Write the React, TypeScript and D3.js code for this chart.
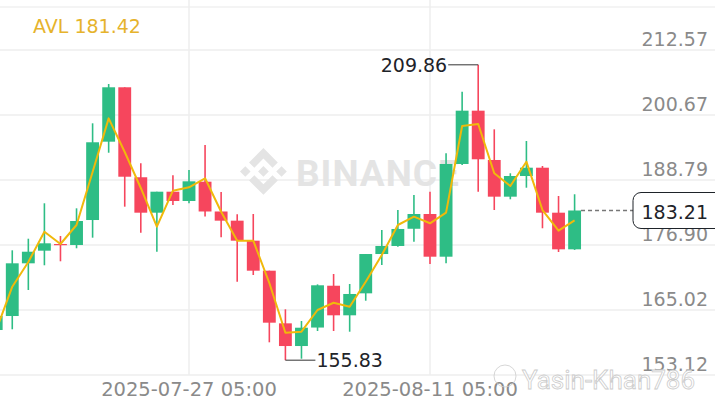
import { useEffect, useRef } from "react";
import * as d3 from "d3";

// daily candles, 05:00
const dates = [
  "2025-07-15", "2025-07-16", "2025-07-17", "2025-07-18", "2025-07-19", "2025-07-20",
  "2025-07-21", "2025-07-22", "2025-07-23", "2025-07-24", "2025-07-25", "2025-07-26",
  "2025-07-27", "2025-07-28", "2025-07-29", "2025-07-30", "2025-07-31", "2025-08-01",
  "2025-08-02", "2025-08-03", "2025-08-04", "2025-08-05", "2025-08-06", "2025-08-07",
  "2025-08-08", "2025-08-09", "2025-08-10", "2025-08-11", "2025-08-12", "2025-08-13",
  "2025-08-14", "2025-08-15", "2025-08-16", "2025-08-17", "2025-08-18", "2025-08-19",
  "2025-08-20",
];
const open = [
  161.35, 163.91, 173.55, 175.86, 177.08, 176.9, 181.47, 195.8, 205.75, 189.29, 182.81, 186.65,
  184.95, 188.48, 183.03, 181.35, 177.69, 172.2, 162.57, 158.42, 161.8, 169.45, 164.04, 168.06,
  175.25, 176.72, 179.87, 182.57, 174.76, 191.72, 201.47, 192.45, 185.74, 189.52, 191.04, 182.81,
  176.11,
];
const high = [
  164.6, 175.93, 178.05, 184.53, 178.55, 183.61, 199.16, 206.35, 205.75, 191.85, 186.65, 189.65,
  190.62, 195.19, 186.6, 182.52, 182.57, 172.2, 165.14, 163.0, 169.7, 171.6, 169.77, 175.25,
  179.64, 183.3, 186.05, 186.65, 193.67, 204.94, 209.86, 198.06, 190.02, 195.92, 191.35, 185.86,
  186.18,
];
const low = [
  160.3, 161.48, 168.67, 173.19, 173.92, 176.3, 178.24, 193.78, 183.91, 179.15, 175.67, 184.22,
  184.53, 182.11, 178.31, 170.19, 171.41, 159.1, 155.83, 156.1, 161.17, 161.17, 161.04, 166.71,
  173.24, 176.6, 177.5, 173.42, 173.55, 191.53, 186.65, 183.3, 185.26, 187.38, 179.96, 175.62,
  176.0,
];
const close = [
  163.91, 173.55, 175.67, 177.21, 176.9, 181.29, 195.69, 205.75, 189.39, 182.81, 186.65, 184.95,
  188.55, 183.03, 181.35, 177.69, 172.2, 162.69, 158.42, 161.77, 169.53, 164.04, 167.94, 175.25,
  176.72, 179.83, 182.57, 174.76, 191.72, 201.47, 192.58, 185.74, 189.52, 191.04, 182.81, 176.11,
  183.21,
];
// AVL line
const avl = [
  161.35, 169.27, 173.79, 179.33, 177.08, 180.56, 190.25, 200.06, 193.91, 187.33, 180.25, 186.83,
  187.45, 189.1, 182.99, 177.69, 177.69, 169.95, 160.86, 161.04, 165.01, 166.34, 165.61, 170.19,
  175.07, 180.56, 182.08, 180.87, 182.81, 198.67, 199.03, 190.02, 187.69, 192.14, 183.3, 179.52,
  181.42,
];

const yTicks = [153.12, 165.02, 176.9, 188.79, 200.67, 212.57];
const xTicks = ["2025-07-27", "2025-08-11"];
const lastPrice = 183.21;

const W = 715;
const H = 401;
const up = "#2ebd85";
const down = "#f6465d";
const font = "DejaVu Sans";

const parse = (s) => {
  const [yy, mm, dd] = s.split("-").map(Number);
  return new Date(yy, mm - 1, dd, 5, 0);
};

function drawChart(el) {
  const svg = d3.select(el);
  svg.selectAll("*").remove();

  const T = dates.map(parse);
  const x = d3.scaleTime().domain([parse(xTicks[0]), parse(xTicks[1])]).range([189, 430]);
  const y = d3.scaleLinear().domain([153.12, 212.57]).range([375, 50]);
  const step = x(T[1]) - x(T[0]);
  const bw = step * 0.8;
  const fmt = d3.timeFormat("%Y-%m-%d %H:%M");

  svg.append("rect").attr("width", W).attr("height", H).attr("fill", "#fff");

  // grid
  svg.append("line").attr("x1", 0).attr("x2", W).attr("y1", 7).attr("y2", 7)
    .attr("stroke", "#f0f0f0").attr("stroke-width", 1.5);
  svg.append("g").selectAll("line").data(yTicks).join("line")
    .attr("x1", 0).attr("x2", W)
    .attr("y1", (d) => y(d)).attr("y2", (d) => y(d))
    .attr("stroke", "#eeeeee").attr("stroke-width", 1.5);
  svg.append("g").selectAll("line").data(xTicks).join("line")
    .attr("x1", (d) => x(parse(d))).attr("x2", (d) => x(parse(d)))
    .attr("y1", 0).attr("y2", y(153.12))
    .attr("stroke", "#eeeeee").attr("stroke-width", 1.5);

  // watermark
  const logo = svg.append("g")
    .attr("transform", "translate(240,148) scale(0.37)")
    .attr("fill", "#e4e4e4");
  [
    "M38.73 53.2 L63.3 28.63 L87.9 53.22 L102.2 38.92 L63.3 0 L24.43 38.9 Z",
    "M0 63.31 L14.3 49.01 L28.6 63.31 L14.3 77.61 Z",
    "M38.73 73.41 L63.3 97.99 L87.9 73.4 L102.2 87.69 L63.3 126.61 L24.43 87.72 Z",
    "M98 63.31 L112.3 49.01 L126.6 63.31 L112.3 77.61 Z",
    "M63.3 48.78 L77.83 63.3 L63.3 77.82 L48.79 63.28 Z",
  ].forEach((p) => logo.append("path").attr("d", p));
  svg.append("text").attr("x", 296).attr("y", 186)
    .attr("font-family", "Roboto").attr("font-weight", 700).attr("font-size", 37)
    .attr("letter-spacing", 1)
    .attr("fill", "#e4e4e4").text("BINANCE");

  // y axis labels
  svg.append("g").selectAll("text").data(yTicks).join("text")
    .attr("x", 708).attr("y", (d) => y(d) - 4)
    .attr("text-anchor", "end")
    .attr("font-family", font).attr("font-size", 19)
    .attr("fill", "#8a8a8a")
    .text((d) => d.toFixed(2));

  // x axis labels
  svg.append("g").selectAll("text").data(xTicks).join("text")
    .attr("x", (d) => x(parse(d))).attr("y", 396)
    .attr("text-anchor", "middle")
    .attr("font-family", font).attr("font-size", 19.5)
    .attr("fill", "#8a8a8a")
    .text((d) => fmt(parse(d)));

  // candles
  const idx = d3.range(dates.length);
  const col = (i) => (close[i] >= open[i] ? up : down);
  svg.append("g").selectAll("line").data(idx).join("line")
    .attr("x1", (i) => x(T[i])).attr("x2", (i) => x(T[i]))
    .attr("y1", (i) => y(high[i])).attr("y2", (i) => y(low[i]))
    .attr("stroke", col).attr("stroke-width", 1.6);
  svg.append("g").selectAll("rect").data(idx).join("rect")
    .attr("x", (i) => x(T[i]) - bw / 2)
    .attr("width", bw)
    .attr("y", (i) => y(Math.max(open[i], close[i])))
    .attr("height", (i) => Math.max(1.2, Math.abs(y(open[i]) - y(close[i]))))
    .attr("fill", col);

  // AVL
  const line = d3.line().x((i) => x(T[i])).y((i) => y(avl[i]));
  svg.append("path").attr("d", line(idx))
    .attr("fill", "none").attr("stroke", "#f0b90b").attr("stroke-width", 2)
    .attr("stroke-linejoin", "round");

  // high / low markers
  const hi = d3.maxIndex(high);
  const lo = d3.minIndex(low);
  svg.append("line")
    .attr("x1", x(T[hi]) - 30).attr("x2", x(T[hi]))
    .attr("y1", y(high[hi])).attr("y2", y(high[hi]))
    .attr("stroke", "#333").attr("stroke-width", 1);
  svg.append("text")
    .attr("x", x(T[hi]) - 31).attr("y", y(high[hi]) + 7)
    .attr("text-anchor", "end")
    .attr("font-family", font).attr("font-size", 19).attr("fill", "#1e2329")
    .text(high[hi].toFixed(2));
  svg.append("line")
    .attr("x1", x(T[lo])).attr("x2", x(T[lo]) + 30)
    .attr("y1", y(low[lo])).attr("y2", y(low[lo]))
    .attr("stroke", "#333").attr("stroke-width", 1);
  svg.append("text")
    .attr("x", x(T[lo]) + 31).attr("y", y(low[lo]) + 7)
    .attr("font-family", font).attr("font-size", 19).attr("fill", "#1e2329")
    .text(low[lo].toFixed(2));

  // last price
  const last = dates.length - 1;
  const py = y(lastPrice);
  svg.append("line")
    .attr("x1", x(T[last]) + bw / 2).attr("x2", 633)
    .attr("y1", py).attr("y2", py)
    .attr("stroke", "#777").attr("stroke-width", 1.5).attr("stroke-dasharray", "4,3");
  svg.append("rect")
    .attr("x", 633).attr("y", py - 18).attr("width", 95).attr("height", 36).attr("rx", 8)
    .attr("fill", "#fff").attr("stroke", "#1e2329").attr("stroke-width", 1);
  svg.append("text")
    .attr("x", 708).attr("y", py + 8)
    .attr("text-anchor", "end")
    .attr("font-family", font).attr("font-size", 19).attr("fill", "#1e2329")
    .text(lastPrice.toFixed(2));

  // legend
  svg.append("text").attr("x", 33).attr("y", 33)
    .attr("font-family", font).attr("font-size", 19).attr("fill", "#e6b32c")
    .text(`AVL ${avl[last].toFixed(2)}`);

  // bottom watermark
  const wm = svg.append("g").attr("fill", "#fff").attr("stroke", "#cccccc").attr("stroke-width", 0.8);
  wm.append("circle").attr("cx", 505).attr("cy", 376).attr("r", 11).attr("fill", "none");
  wm.append("text").attr("x", 522).attr("y", 389)
    .attr("font-family", "Roboto").attr("font-size", 26)
    .text("Yasin-Khan786");
}

export default function App() {
  const ref = useRef(null);
  useEffect(() => {
    document.body.style.margin = "0";
    drawChart(ref.current);
  }, []);
  return (
    <svg
      ref={ref}
      width={W}
      height={H}
      viewBox={`0 0 ${W} ${H}`}
      style={{ display: "block" }}
    />
  );
}
